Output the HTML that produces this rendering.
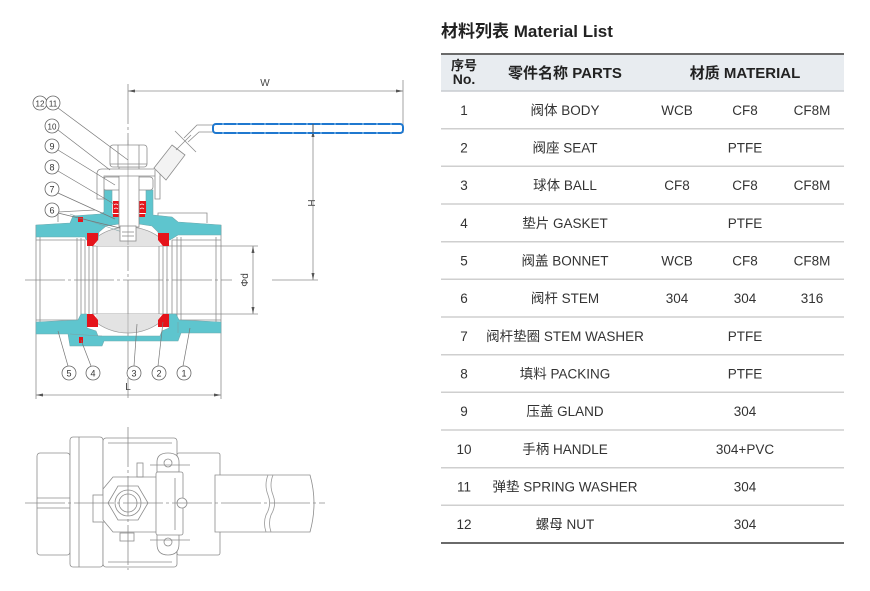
<!DOCTYPE html>
<html><head><meta charset="utf-8">
<style>
html,body{margin:0;padding:0;background:#fff;}
body{width:870px;height:591px;overflow:hidden;position:relative;}
svg{position:absolute;left:0;top:0;}
.t{font-family:"Liberation Sans","Noto Sans CJK SC",sans-serif;}
</style></head>
<body>
<svg width="870" height="591" viewBox="0 0 870 591" xmlns="http://www.w3.org/2000/svg">
<defs>
<clipPath id="bc"><rect x="96" y="220" width="64" height="26"/><rect x="96" y="314" width="64" height="22"/></clipPath>
</defs>

<!-- ========== TABLE ========== -->
<g class="t">
<text x="441" y="37" font-size="17" font-weight="bold" fill="#222" font-family="Liberation Sans, Noto Sans CJK SC, sans-serif">材料列表 Material List</text>
<rect x="441" y="54" width="403" height="37" fill="#e8ecf0"/>
<line x1="441" y1="54" x2="844" y2="54" stroke="#6a6a6a" stroke-width="2"/>
<line x1="441" y1="91" x2="844" y2="91" stroke="#c8ccd0" stroke-width="1.5"/>
<g font-family="Liberation Sans, Noto Sans CJK SC, sans-serif" fill="#222" font-weight="bold" text-anchor="middle">
<text x="464" y="70" font-size="13">序号</text>
<text x="464" y="84" font-size="14">No.</text>
<text x="565" y="78" font-size="15">零件名称 PARTS</text>
<text x="745" y="78" font-size="15">材质 MATERIAL</text>
</g>
<g stroke="#cfcfcf" stroke-width="1.5">
<line x1="441" y1="128.7" x2="844" y2="128.7"/>
<line x1="441" y1="166.3" x2="844" y2="166.3"/>
<line x1="441" y1="204" x2="844" y2="204"/>
<line x1="441" y1="241.7" x2="844" y2="241.7"/>
<line x1="441" y1="279.3" x2="844" y2="279.3"/>
<line x1="441" y1="317" x2="844" y2="317"/>
<line x1="441" y1="354.7" x2="844" y2="354.7"/>
<line x1="441" y1="392.3" x2="844" y2="392.3"/>
<line x1="441" y1="430" x2="844" y2="430"/>
<line x1="441" y1="467.7" x2="844" y2="467.7"/>
<line x1="441" y1="505.3" x2="844" y2="505.3"/>
</g>
<line x1="441" y1="543" x2="844" y2="543" stroke="#6a6a6a" stroke-width="2"/>
<g font-family="Liberation Sans, Noto Sans CJK SC, sans-serif" font-size="13.5" fill="#333" text-anchor="middle">
<text x="464" y="115">1</text><text x="565" y="115">阀体 BODY</text><text x="677" y="115">WCB</text><text x="745" y="115">CF8</text><text x="812" y="115">CF8M</text>
<text x="464" y="152.5">2</text><text x="565" y="152.5">阀座 SEAT</text><text x="745" y="152.5">PTFE</text>
<text x="464" y="190">3</text><text x="565" y="190">球体 BALL</text><text x="677" y="190">CF8</text><text x="745" y="190">CF8</text><text x="812" y="190">CF8M</text>
<text x="464" y="228">4</text><text x="565" y="228">垫片 GASKET</text><text x="745" y="228">PTFE</text>
<text x="464" y="265.5">5</text><text x="565" y="265.5">阀盖 BONNET</text><text x="677" y="265.5">WCB</text><text x="745" y="265.5">CF8</text><text x="812" y="265.5">CF8M</text>
<text x="464" y="303">6</text><text x="565" y="303">阀杆 STEM</text><text x="677" y="303">304</text><text x="745" y="303">304</text><text x="812" y="303">316</text>
<text x="464" y="341">7</text><text x="565" y="341">阀杆垫圈 STEM WASHER</text><text x="745" y="341">PTFE</text>
<text x="464" y="378.5">8</text><text x="565" y="378.5">填料 PACKING</text><text x="745" y="378.5">PTFE</text>
<text x="464" y="416">9</text><text x="565" y="416">压盖 GLAND</text><text x="745" y="416">304</text>
<text x="464" y="454">10</text><text x="565" y="454">手柄 HANDLE</text><text x="745" y="454">304+PVC</text>
<text x="464" y="491.5">11</text><text x="565" y="491.5">弹垫 SPRING WASHER</text><text x="745" y="491.5">304</text>
<text x="464" y="529">12</text><text x="565" y="529">螺母 NUT</text><text x="745" y="529">304</text>
</g>
</g>

<!-- ========== SECTION VIEW ========== -->
<g stroke="#8c8c8c" stroke-width="0.8" fill="none">
<line x1="128" y1="91" x2="403" y2="91"/>
<line x1="403" y1="80" x2="403" y2="133"/>
<line x1="128" y1="84" x2="128" y2="398" stroke-dasharray="40,3,3,3"/>
<line x1="25" y1="280" x2="232" y2="280" stroke-dasharray="40,3,3,3"/>
<line x1="272" y1="280" x2="318" y2="280"/>
<line x1="313" y1="130" x2="313" y2="280"/>
<line x1="92" y1="246" x2="258" y2="246"/>
<line x1="92" y1="314" x2="258" y2="314"/>
<line x1="253" y1="246" x2="253" y2="314"/>
<line x1="36" y1="225" x2="36" y2="399"/>
<line x1="221" y1="225" x2="221" y2="399"/>
<line x1="36" y1="395" x2="221" y2="395"/>
<line x1="40" y1="237" x2="40" y2="322"/>
<line x1="77" y1="238" x2="77" y2="320"/>
<line x1="81" y1="238" x2="81" y2="320"/>
<line x1="85" y1="240" x2="85" y2="316"/>
<line x1="89" y1="246" x2="89" y2="314"/>
<line x1="93" y1="246" x2="93" y2="314"/>
<line x1="97" y1="246" x2="97" y2="314"/>
<line x1="159" y1="246" x2="159" y2="314"/>
<line x1="163" y1="246" x2="163" y2="314"/>
<line x1="167" y1="246" x2="167" y2="314"/>
<line x1="172" y1="240" x2="172" y2="316"/>
<line x1="177" y1="237" x2="177" y2="320"/>
<line x1="181" y1="237" x2="181" y2="320"/>
<line x1="216" y1="237" x2="216" y2="322"/>
<line x1="36" y1="240" x2="85" y2="240"/>
<line x1="36" y1="320" x2="85" y2="320"/>
<line x1="172" y1="240" x2="221" y2="240"/>
<line x1="172" y1="320" x2="221" y2="320"/>
<path d="M158,222 L158,213 L207,213 L207,223"/>
<path d="M58,222 L58,212 L95,210"/>
</g>
<g fill="#555">
<polygon points="128,91 135,89.5 135,92.5"/>
<polygon points="403,91 396,89.5 396,92.5"/>
<polygon points="313,130 311.5,137 314.5,137"/>
<polygon points="313,280 311.5,273 314.5,273"/>
<polygon points="253,246 251.5,253 254.5,253"/>
<polygon points="253,314 251.5,307 254.5,307"/>
<polygon points="36,395 43,393.5 43,396.5"/>
<polygon points="221,395 214,393.5 214,396.5"/>
</g>
<g font-family="Liberation Sans, sans-serif" font-size="10" fill="#444" text-anchor="middle">
<text x="265" y="86">W</text>
<text x="128" y="390">L</text>
<text transform="translate(308,203) rotate(90)">H</text>
<text transform="translate(248,280) rotate(-90)">Φd</text>
</g>

<circle cx="128" cy="280" r="53" fill="#e3e3e3" stroke="#9a9a9a" stroke-width="0.7" clip-path="url(#bc)"/>
<line x1="128" y1="314" x2="128" y2="336" stroke="#9a9a9a" stroke-width="0.6"/>

<g fill="#5ec5ce" stroke="#6fa9ae" stroke-width="0.6">
<path d="M36,225 L70,223 L73,216 L100,214 L104,212 L104,190 L112,190 L112,214 L119,217 L119,224 L106,226 L99,232 L98,240 L86,240 L85,237 L36,237 Z"/>
<path d="M153,190 L146,190 L146,214 L139,217 L139,224 L152,226 L158,232 L159,240 L170,240 L178,235 L221,235 L221,225 L178,222 L172,217 L153,215 Z"/>
<path d="M36,322 L78,320 L81,314 L87,314 L87,328 L96,331 L98,336 L160,336 L162,331 L169,328 L169,314 L176,314 L179,320 L221,322 L221,333 L181,333 L178,341 L104,341 L102,346 L70,346 L68,334 L36,334 Z"/>
</g>
<g stroke="#7a9fa3" stroke-width="0.6" fill="none">
<line x1="70" y1="214" x2="122" y2="232"/>
<line x1="70" y1="334" x2="102" y2="336"/>
<line x1="178" y1="322" x2="178" y2="333"/>
</g>
<g fill="#e5141b">
<polygon points="87,233 98,233 98,240 93,246 87,246"/>
<polygon points="169,233 158,233 158,240 163,246 169,246"/>
<polygon points="87,327 98,327 98,320 93,314 87,314"/>
<polygon points="169,327 158,327 158,320 163,314 169,314"/>
<rect x="78" y="217" width="5" height="5"/>
<rect x="79" y="337" width="4" height="6"/>
<rect x="113" y="201" width="6" height="12"/>
<rect x="139" y="201" width="7" height="12"/>
<rect x="113" y="214" width="6" height="3"/>
<rect x="139" y="214" width="6" height="3"/>
</g>
<g stroke="#fff" stroke-width="0.7" fill="none">
<path d="M114,205 q2,-2 4,0 M114,209 q2,-2 4,0 M140,205 q2,-2 4,0 M140,209 q2,-2 4,0"/>
</g>

<g stroke="#8c8c8c" stroke-width="0.8">
<rect x="103" y="177" width="50" height="13" rx="3" fill="#fff"/>
<rect x="119" y="167" width="20" height="60" fill="#fff"/>
<rect x="120" y="226" width="16" height="15" fill="#fff"/>
<line x1="122" y1="232" x2="134" y2="232" />
<line x1="122" y1="236" x2="134" y2="236" />
<path d="M97,199 L97,174 Q97,169 102,169 L160,169 L160,176 L104,176 L104,199 Z" fill="#fff"/>
<rect x="110" y="145" width="37" height="22" rx="3" fill="#fff"/>
<line x1="118" y1="145" x2="118" y2="167"/>
<line x1="139" y1="145" x2="139" y2="167"/>
<line x1="110" y1="164" x2="147" y2="164"/>
<polygon points="172,145 185,155 166,180 154,168" fill="#f3f3f3"/>
<path d="M155,170 L155,199 L160,199 L160,176" fill="#fff"/>
<polyline points="213,125 197,125 184,138" fill="none"/>
<polyline points="213,132 199,132 188,142" fill="none"/>
<line x1="175" y1="131" x2="196" y2="152"/>
<line x1="176" y1="150" x2="191" y2="135"/>
</g>
<line x1="128" y1="140" x2="128" y2="245" stroke="#8c8c8c" stroke-width="0.6"/>
<rect x="213" y="124" width="190" height="9" rx="3" fill="#fff" stroke="#1f78cf" stroke-width="2"/>
<line x1="222" y1="124" x2="398" y2="124" stroke="#9fcdf0" stroke-width="1" stroke-dasharray="2,12"/>
<line x1="222" y1="133" x2="398" y2="133" stroke="#9fcdf0" stroke-width="1" stroke-dasharray="2,12"/>
<line x1="313" y1="124" x2="313" y2="133" stroke="#555" stroke-width="1"/>

<g stroke="#777" stroke-width="0.7">
<line x1="58" y1="108" x2="128" y2="160"/>
<line x1="58" y1="130" x2="110" y2="170"/>
<line x1="58" y1="150" x2="115" y2="185"/>
<line x1="58" y1="171" x2="114" y2="204"/>
<line x1="58" y1="193" x2="115" y2="219"/>
<line x1="58" y1="213" x2="120" y2="228"/>
<line x1="68" y1="366" x2="58" y2="331"/>
<line x1="91" y1="366" x2="81" y2="340"/>
<line x1="134" y1="366" x2="137" y2="324"/>
<line x1="158" y1="366" x2="163" y2="322"/>
<line x1="183" y1="366" x2="190" y2="328"/>
</g>
<g fill="#fff" stroke="#666" stroke-width="0.8">
<circle cx="40" cy="103" r="7"/><circle cx="53" cy="103" r="7"/>
<circle cx="52" cy="126" r="7"/><circle cx="52" cy="146" r="7"/>
<circle cx="52" cy="167" r="7"/><circle cx="52" cy="189" r="7"/>
<circle cx="52" cy="210" r="7"/>
<circle cx="69" cy="373" r="7"/><circle cx="93" cy="373" r="7"/>
<circle cx="134" cy="373" r="7"/><circle cx="159" cy="373" r="7"/>
<circle cx="184" cy="373" r="7"/>
</g>
<g font-family="Liberation Sans, sans-serif" font-size="9" fill="#333" text-anchor="middle">
<text x="40" y="106.5" font-size="8">12</text><text x="53" y="106.5" font-size="8">11</text>
<text x="52" y="129.5" font-size="8">10</text><text x="52" y="149.5">9</text>
<text x="52" y="170.5">8</text><text x="52" y="192.5">7</text>
<text x="52" y="213.5">6</text>
<text x="69" y="376.5">5</text><text x="93" y="376.5">4</text>
<text x="134" y="376.5">3</text><text x="159" y="376.5">2</text>
<text x="184" y="376.5">1</text>
</g>

<!-- ========== TOP VIEW ========== -->
<g stroke="#8c8c8c" stroke-width="0.8" fill="#fff">
<rect x="37" y="453" width="33" height="102" rx="3"/>
<rect x="70" y="437" width="33" height="130" rx="3"/>
<rect x="103" y="438" width="74" height="129" rx="3"/>
<rect x="177" y="453" width="43" height="102" rx="2"/>
<path d="M157,472 L157,462 Q157,453 168,453 Q179,453 179,462 L179,472 Z"/>
<path d="M157,534 L157,544 Q157,555 168,555 Q179,555 179,544 L179,534 Z"/>
<rect x="93" y="495" width="15" height="27"/>
<path d="M113,477 L160,477 L160,532 L113,532 L103,520 L103,489 Z"/>
<rect x="156" y="472" width="27" height="63" rx="2"/>
<path d="M215,475 L310,475 Q318,503 310,532 L215,532 Z"/>
</g>
<g stroke="#8c8c8c" stroke-width="0.8" fill="none">
<line x1="79" y1="437" x2="79" y2="567"/>
<line x1="108" y1="443" x2="172" y2="443"/>
<line x1="108" y1="562" x2="172" y2="562"/>
<line x1="37" y1="498" x2="70" y2="498"/>
<line x1="37" y1="508" x2="70" y2="508"/>
<line x1="175" y1="478" x2="175" y2="530"/>
<line x1="150" y1="465" x2="190" y2="465"/>
<line x1="150" y1="540" x2="190" y2="540"/>
<circle cx="168" cy="463" r="4"/>
<circle cx="168" cy="542" r="4"/>
<rect x="137" y="463" width="6" height="14"/>
<rect x="120" y="533" width="14" height="8"/>
<path d="M268,475 q-4,10 0,20 q4,10 -2,20 q-3,8 0,17" stroke="#999"/>
<path d="M273,475 q-4,10 0,20 q4,10 -2,20 q-3,8 0,17" stroke="#999"/>
<polygon points="108,503 118,486 138,486 148,503 138,520 118,520" fill="#fff"/>
<circle cx="128" cy="503" r="13"/>
<circle cx="128" cy="503" r="9"/>
<circle cx="182" cy="503" r="5" fill="#fff"/>
<line x1="25" y1="503" x2="325" y2="503" stroke-dasharray="40,3,3,3"/>
<line x1="128" y1="427" x2="128" y2="570" stroke-dasharray="40,3,3,3"/>
</g>
</svg>
</body></html>
